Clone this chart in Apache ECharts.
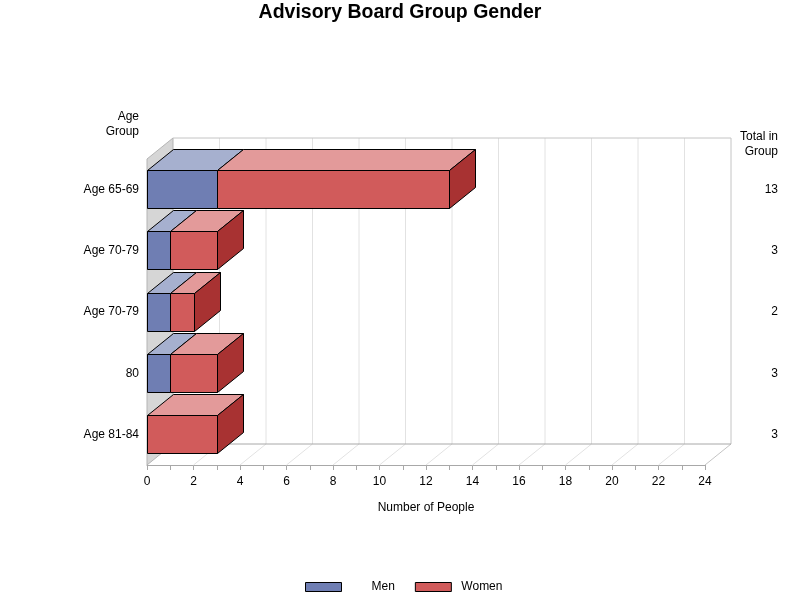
<!DOCTYPE html>
<html>
<head>
<meta charset="utf-8">
<script src="https://cdn.jsdelivr.net/npm/echarts@6/dist/echarts.min.js"></script>
<style>
  html, body { margin: 0; padding: 0; background: #fff; }
  #chart { width: 800px; height: 600px; }
</style>
</head>
<body>
<div id="chart"></div>
<script>
// data
const ageGroups = ['Age 65-69', 'Age 70-79', 'Age 70-79', '80', 'Age 81-84']
const men = [3, 1, 1, 1, 0]
const women = [10, 2, 1, 2, 3]
const totals = ['13', '3', '2', '3', '3']

const FONT = '"Liberation Sans", Arial, sans-serif'
const DX = 26   // depth offset of back plane
const DY = -21
const X_MAX = 24
const X_STEP = 2

const colors = {
  men: { front: '#6f7eb3', top: '#a6b0cf', side: '#4f5e93' },
  women: { front: '#d15b5b', top: '#e39a9a', side: '#a83232' }
}

// segments per row: [row, start, end, isLast]
function segments(which) {
  return ageGroups.map((g, i) => {
    const start = which === 'men' ? 0 : men[i]
    const end = which === 'men' ? men[i] : men[i] + women[i]
    const last = which === 'women' || women[i] === 0
    return [i, start, end, last ? 1 : 0]
  })
}

function boxRenderer(c) {
  return function(params, api) {
    const row = api.value(0)
    const s = api.value(1)
    const e = api.value(2)
    if (e <= s) return
    const h = 38
    const p0 = api.coord([s, row])
    const p1 = api.coord([e, row])
    const top = Math.floor(p0[1] - h / 2) + 0.5
    const bot = top + h
    const x0 = Math.round(p0[0]) + 0.5
    const x1 = Math.round(p1[0]) + 0.5
    const line = { stroke: '#000', lineWidth: 1 }
    const kids = [
      { type: 'polygon', shape: { points: [[x0, top], [x0 + DX, top + DY], [x1 + DX, top + DY], [x1, top]] },
        style: Object.assign({ fill: c.top }, line) },
      { type: 'rect', shape: { x: x0, y: top, width: x1 - x0, height: h },
        style: Object.assign({ fill: c.front }, line) }
    ]
    if (api.value(3)) {
      kids.push({ type: 'polygon', shape: { points: [[x1, top], [x1 + DX, top + DY], [x1 + DX, bot + DY], [x1, bot]] },
        style: Object.assign({ fill: c.side }, line) })
    }
    return { type: 'group', children: kids }
  }
}

// walls, floor and back grid
function frameRenderer(params, api) {
  const cs = params.coordSys
  const left = cs.x
  const right = cs.x + cs.width
  const top = cs.y
  const bot = cs.y + cs.height
  const kids = []
  // left wall
  kids.push({ type: 'polygon', shape: { points: [[left, top], [left + DX, top + DY], [left + DX, bot + DY], [left, bot]] },
    style: { fill: '#d6d6d6', stroke: '#b4b4b4', lineWidth: 1 } })
  for (let v = X_STEP; v <= X_MAX; v += X_STEP) {
    const x = api.coord([v, 0])[0]
    // back wall vertical grid
    kids.push({ type: 'line', shape: { x1: x + DX, y1: top + DY, x2: x + DX, y2: bot + DY },
      style: { stroke: v === X_MAX ? '#c4c4c4' : '#e2e2e2', lineWidth: 1 } })
    // floor diagonals
    kids.push({ type: 'line', shape: { x1: x, y1: bot, x2: x + DX, y2: bot + DY },
      style: { stroke: v === X_MAX ? '#c4c4c4' : '#e2e2e2', lineWidth: 1 } })
  }
  // back wall top and floor back edge
  kids.push({ type: 'line', shape: { x1: left + DX, y1: top + DY, x2: right + DX, y2: top + DY },
    style: { stroke: '#c4c4c4', lineWidth: 1 } })
  kids.push({ type: 'line', shape: { x1: left + DX, y1: bot + DY, x2: right + DX, y2: bot + DY },
    style: { stroke: '#a8a8a8', lineWidth: 1 } })
  return { type: 'group', children: kids }
}

const chart = echarts.init(document.getElementById('chart'))
chart.setOption({
  animation: false,
  textStyle: { fontFamily: FONT },
  title: {
    text: 'Advisory Board Group Gender',
    left: 'center',
    top: -2,
    textStyle: { fontFamily: FONT, fontSize: 19.5, fontWeight: 'bold', color: '#000' }
  },
  legend: {
    left: 300,
    top: 576,
    itemWidth: 36,
    itemHeight: 9,
    itemGap: 20,
    icon: 'rect',
    itemStyle: { borderColor: '#000', borderWidth: 1 },
    textStyle: { fontFamily: FONT, fontSize: 12, color: '#000' },
    data: [
      { name: 'Men', textStyle: { padding: [0, 0, 0, 25] } },
      { name: 'Women', textStyle: { padding: [0, 0, 0, 5] } }
    ]
  },
  grid: { left: 147, right: 95, top: 159, bottom: 135, containLabel: false },
  xAxis: {
    type: 'value',
    min: 0,
    max: X_MAX,
    interval: X_STEP,
    name: 'Number of People',
    nameLocation: 'middle',
    nameGap: 37,
    nameTextStyle: { fontFamily: FONT, fontSize: 12, color: '#000' },
    axisLine: { show: true, lineStyle: { color: '#a8a8a8' } },
    axisTick: { show: true, length: 5, lineStyle: { color: '#a8a8a8' } },
    minorTick: { show: true, splitNumber: 2, length: 5, lineStyle: { color: '#a8a8a8' } },
    splitLine: { show: false },
    axisLabel: { margin: 11, fontFamily: FONT, fontSize: 12, color: '#000' }
  },
  yAxis: [
    {
      type: 'category',
      inverse: true,
      data: ageGroups,
      axisLine: { show: true, lineStyle: { color: '#b4b4b4' } },
      axisTick: { show: false },
      splitLine: { show: false },
      axisLabel: { margin: 8, fontFamily: FONT, fontSize: 12, color: '#000' }
    },
    {
      type: 'category',
      inverse: true,
      position: 'right',
      data: totals,
      axisLine: { show: false },
      axisTick: { show: false },
      splitLine: { show: false },
      axisLabel: { margin: 73, align: 'right', fontFamily: FONT, fontSize: 12, color: '#000' }
    }
  ],
  graphic: [
    { type: 'text', right: 661, top: 109,
      style: { text: 'Age\nGroup', textAlign: 'right', font: '12px ' + FONT, lineHeight: 15, fill: '#000' } },
    { type: 'text', right: 22, top: 129,
      style: { text: 'Total in\nGroup', textAlign: 'right', font: '12px ' + FONT, lineHeight: 15, fill: '#000' } }
  ],
  series: [
    {
      type: 'custom',
      name: 'frame',
      z: 1,
      silent: true,
      renderItem: frameRenderer,
      data: [[0, 0]],
      encode: { x: 0, y: 1 }
    },
    {
      type: 'custom',
      name: 'Men',
      z: 2,
      itemStyle: { color: colors.men.front },
      renderItem: boxRenderer(colors.men),
      encode: { y: 0, x: [1, 2] },
      data: segments('men')
    },
    {
      type: 'custom',
      name: 'Women',
      z: 3,
      itemStyle: { color: colors.women.front },
      renderItem: boxRenderer(colors.women),
      encode: { y: 0, x: [1, 2] },
      data: segments('women')
    }
  ]
})
</script>
</body>
</html>
